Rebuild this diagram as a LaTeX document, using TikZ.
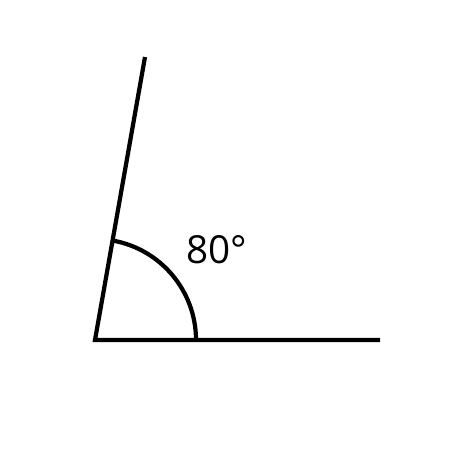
\documentclass[tikz,border=0pt]{standalone}
\usepackage{fontspec}
\setmainfont{Open Sans}
\usetikzlibrary{calc}
\tikzset{ray/.style={line width=2.4pt,line cap=butt,black},
  lbl/.style={font=\fontsize{22}{26}\selectfont,inner sep=0pt}}
\begin{document}
\begin{tikzpicture}[x=0.02cm,y=-0.02cm]
\useasboundingbox (0,0) rectangle (474,474);
\fill[white] (0,0) rectangle (474,474);
\coordinate (O) at (95,340);
\coordinate (A) at (380,340);
\coordinate (B) at (145,57);
\draw[ray,line join=miter] (A) -- (O) -- (B);
\draw[ray] ($(O)+(101,0)$) arc[start angle=0,end angle=-80,radius=101];
\node[lbl] (t) at (217,250) {80°};
\end{tikzpicture}
\end{document}
